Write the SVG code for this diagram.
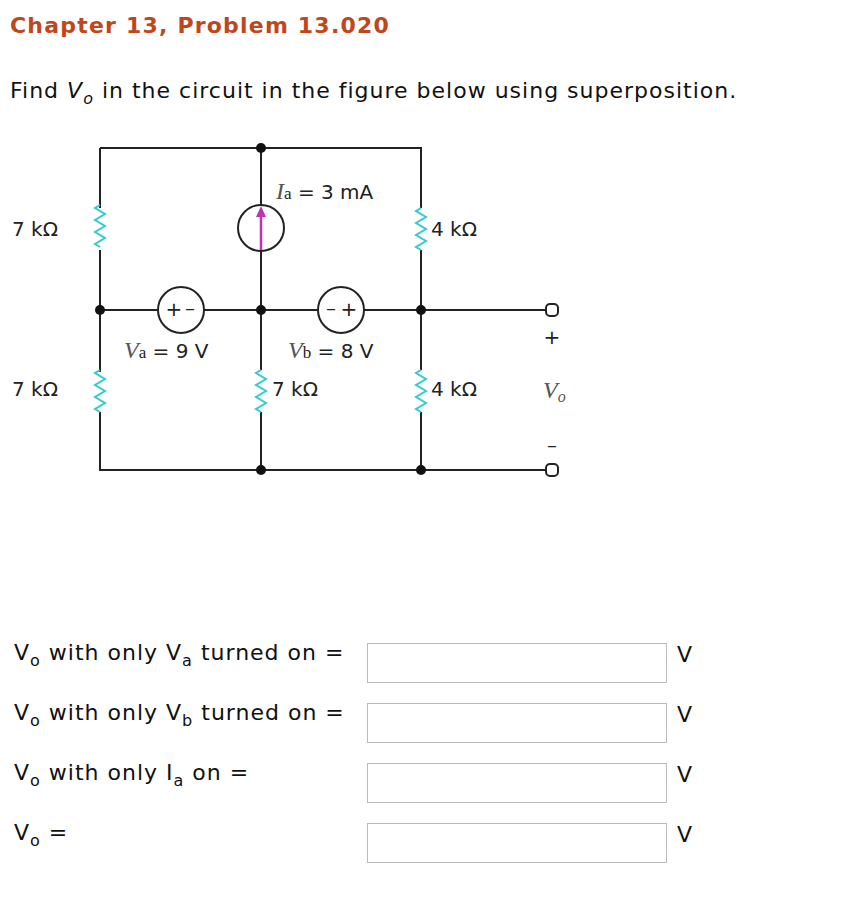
<svg xmlns="http://www.w3.org/2000/svg" width="848" height="902" viewBox="0 0 848 902">
<style>
.w{stroke:#222;stroke-width:2;fill:none}
.r{stroke:#3cc;stroke-width:2;fill:none}
.src{stroke:#222;stroke-width:2;fill:#fff}
.dot{fill:#111}
.t{font-family:"DejaVu Sans",Verdana,sans-serif;font-size:20px;fill:#222}
.it{font-family:"Liberation Serif",serif;font-style:italic;font-size:24px;fill:#555}
.q{font-family:"DejaVu Sans",Verdana,sans-serif;font-size:22px;letter-spacing:1px;fill:#111}
.box{fill:#fff;stroke:#bbb;stroke-width:1}
</style>
<defs>
<path id="res" d="M0,0 l-5,3 l10,6 l-10,6 l10,6 l-10,6 l10,6 l-10,6 l5,3"/>
</defs>
<text x="10" y="33" font-family="'DejaVu Sans',Verdana,sans-serif" font-weight="bold" font-size="22" letter-spacing="1.2" fill="#c0461c">Chapter 13, Problem 13.020</text>
<text x="10" y="98" font-family="'DejaVu Sans',Verdana,sans-serif" font-size="22" letter-spacing="1" fill="#111">Find <tspan font-style="italic">V</tspan><tspan font-style="italic" font-size="16" dy="6">o</tspan><tspan dy="-6"> in the circuit in the figure below using superposition.</tspan></text>
<g id="connectors">
<path class="w" d="M100,148 H421 V208 M421,250 V370 M421,412 V470 H100 V412 M100,372 V250 M100,208 V148"/>
<path class="w" d="M100,310 H552 M261,148 V370 M261,412 V470 M421,470 H552"/>
</g>
<g id="resistors">
<use href="#res" x="100" y="205" class="r"/>
<use href="#res" x="100" y="370" class="r"/>
<use href="#res" x="261" y="370" class="r"/>
<use href="#res" x="421" y="208" class="r"/>
<use href="#res" x="421" y="370" class="r"/>
</g>
<g id="Ia">
<circle class="src" cx="261" cy="228" r="23"/>
<path d="M261,250 V210" stroke="#b3b" stroke-width="2.5"/>
<path d="M256,217 L261,206 L266,217 Z" fill="#b3b"/>
</g>
<g id="Va">
<circle class="src" cx="181" cy="310" r="23"/>
<text x="174" y="316" class="t" font-size="16" text-anchor="middle" fill="#888">+</text>
<text x="190" y="315" class="t" font-size="16" text-anchor="middle" fill="#888">–</text>
</g>
<g id="Vb">
<circle class="src" cx="341" cy="310" r="23"/>
<text x="331" y="315" class="t" font-size="16" text-anchor="middle" fill="#888">–</text>
<text x="349" y="316" class="t" font-size="16" text-anchor="middle" fill="#888">+</text>
</g>
<g id="nodes">
<circle class="dot" cx="261" cy="148" r="5"/>
<circle class="dot" cx="100" cy="310" r="5"/>
<circle class="dot" cx="261" cy="310" r="5"/>
<circle class="dot" cx="421" cy="310" r="5"/>
<circle class="dot" cx="261" cy="470" r="5"/>
<circle class="dot" cx="421" cy="470" r="5"/>
<rect x="546" y="304" width="12" height="12" rx="4" fill="#fff" stroke="#222" stroke-width="2"/>
<rect x="546" y="464" width="12" height="12" rx="4" fill="#fff" stroke="#222" stroke-width="2"/>
</g>
<g id="labels">
<text x="12" y="236" class="t">7 kΩ</text>
<text x="12" y="396" class="t">7 kΩ</text>
<text x="272" y="396" class="t">7 kΩ</text>
<text x="431" y="236" class="t">4 kΩ</text>
<text x="431" y="396" class="t">4 kΩ</text>
<text x="276" y="199" class="t" font-size="22"><tspan class="it" font-size="26">I</tspan><tspan font-family="Liberation Serif" font-size="17">a</tspan> = 3 mA</text>
<text x="124" y="358" class="t" font-size="22"><tspan class="it" font-size="26">V</tspan><tspan font-family="Liberation Serif" font-size="17">a</tspan> = 9 V</text>
<text x="288" y="358" class="t" font-size="22"><tspan class="it" font-size="26">V</tspan><tspan font-family="Liberation Serif" font-size="17">b</tspan> = 8 V</text>
<text x="552" y="344" class="t" font-size="14" text-anchor="middle" fill="#555">+</text>
<text x="552" y="452" class="t" font-size="14" text-anchor="middle" fill="#555">–</text>
<text x="543" y="398" class="it" font-size="24">V<tspan font-size="16" dy="4">o</tspan></text>
</g>
<g id="form">
<text x="14" y="660" class="q">V<tspan font-size="16" dy="6">o</tspan><tspan dy="-6"> with only V</tspan><tspan font-size="16" dy="6">a</tspan><tspan dy="-6"> turned on  =</tspan></text>
<text x="14" y="720" class="q">V<tspan font-size="16" dy="6">o</tspan><tspan dy="-6"> with only V</tspan><tspan font-size="16" dy="6">b</tspan><tspan dy="-6"> turned on  =</tspan></text>
<text x="14" y="780" class="q">V<tspan font-size="16" dy="6">o</tspan><tspan dy="-6"> with only I</tspan><tspan font-size="16" dy="6">a</tspan><tspan dy="-6"> on  =</tspan></text>
<text x="14" y="840" class="q">V<tspan font-size="16" dy="6">o</tspan><tspan dy="-6">  =</tspan></text>
<rect class="box" x="367.500" y="643.500" width="299" height="39"/>
<rect class="box" x="367.500" y="703.500" width="299" height="39"/>
<rect class="box" x="367.500" y="763.500" width="299" height="39"/>
<rect class="box" x="367.500" y="823.500" width="299" height="39"/>
<text x="677" y="662" class="q" font-size="18">V</text>
<text x="677" y="722" class="q" font-size="18">V</text>
<text x="677" y="782" class="q" font-size="18">V</text>
<text x="677" y="842" class="q" font-size="18">V</text>
</g>
</svg>
